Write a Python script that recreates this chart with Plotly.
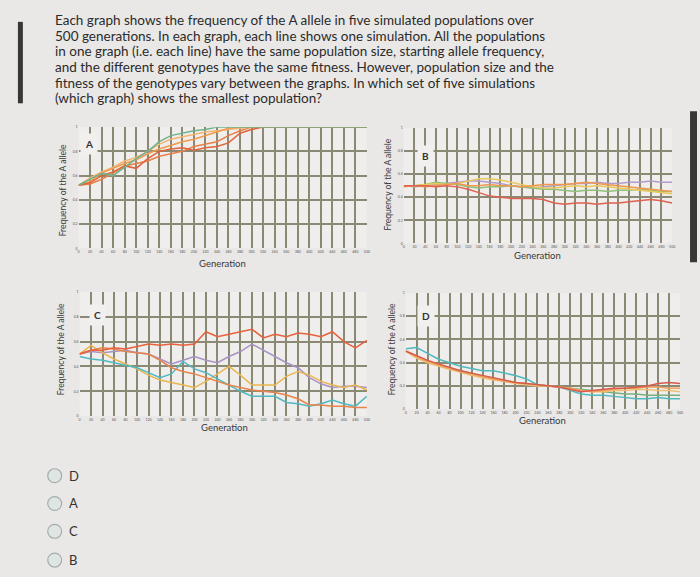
import plotly.graph_objects as go

W, H = 700, 577

question_lines = [
    "Each graph shows the frequency of the A allele in five simulated populations over",
    "500 generations. In each graph, each line shows one simulation. All the populations",
    "in one graph (i.e. each line) have the same population size, starting allele frequency,",
    "and the different genotypes have the same fitness. However, population size and the",
    "fitness of the genotypes vary between the graphs. In which set of five simulations",
    "(which graph) shows the smallest population?",
]
options = ["D", "A", "C", "B"]

generations = list(range(0, 501, 20))

# Panel A
a_green = [0.52, 0.57, 0.62, 0.60, 0.67, 0.74, 0.80, 0.88, 0.93, 0.95, 0.97, 0.98, 1.0, 1.0, 1.0, 1.0, 1.0, 1.0, 1.0, 1.0, 1.0, 1.0, 1.0, 1.0, 1.0, 1.0]
a_orange = [0.52, 0.55, 0.62, 0.66, 0.70, 0.73, 0.78, 0.82, 0.85, 0.88, 0.90, 0.93, 0.96, 0.99, 1.0, 1.0, 1.0, 1.0, 1.0, 1.0, 1.0, 1.0, 1.0, 1.0, 1.0, 1.0]
a_red = [0.52, 0.54, 0.60, 0.63, 0.68, 0.66, 0.74, 0.80, 0.82, 0.83, 0.81, 0.83, 0.84, 0.87, 0.95, 0.98, 1.0, 1.0, 1.0, 1.0, 1.0, 1.0, 1.0, 1.0, 1.0, 1.0]
a_lightorange = [0.52, 0.58, 0.63, 0.67, 0.72, 0.75, 0.80, 0.86, 0.90, 0.92, 0.94, 0.96, 0.97, 0.98, 0.99, 1.0, 1.0, 1.0, 1.0, 1.0, 1.0, 1.0, 1.0, 1.0, 1.0, 1.0]
a_redorange = [0.52, 0.53, 0.57, 0.62, 0.68, 0.70, 0.72, 0.76, 0.78, 0.80, 0.84, 0.86, 0.88, 0.93, 0.97, 1.0, 1.0, 1.0, 1.0, 1.0, 1.0, 1.0, 1.0, 1.0, 1.0, 1.0]

# Panel B
b_red = [0.50, 0.50, 0.50, 0.49, 0.50, 0.49, 0.47, 0.44, 0.41, 0.40, 0.39, 0.39, 0.39, 0.38, 0.35, 0.34, 0.35, 0.35, 0.34, 0.35, 0.35, 0.36, 0.37, 0.38, 0.37, 0.35]
b_orange = [0.49, 0.50, 0.49, 0.50, 0.51, 0.52, 0.50, 0.50, 0.51, 0.50, 0.50, 0.49, 0.50, 0.51, 0.51, 0.51, 0.52, 0.53, 0.52, 0.51, 0.50, 0.49, 0.48, 0.47, 0.46, 0.45]
b_yellow = [0.50, 0.50, 0.51, 0.52, 0.51, 0.52, 0.54, 0.56, 0.56, 0.55, 0.53, 0.51, 0.49, 0.48, 0.48, 0.49, 0.50, 0.49, 0.50, 0.49, 0.48, 0.47, 0.46, 0.45, 0.44, 0.43]
b_green = [0.50, 0.50, 0.51, 0.53, 0.52, 0.51, 0.49, 0.48, 0.49, 0.49, 0.50, 0.49, 0.48, 0.47, 0.47, 0.46, 0.45, 0.46, 0.46, 0.45, 0.46, 0.46, 0.47, 0.46, 0.45, 0.45]
b_purple = [0.50, 0.49, 0.50, 0.51, 0.52, 0.53, 0.54, 0.54, 0.53, 0.52, 0.50, 0.49, 0.48, 0.49, 0.50, 0.51, 0.52, 0.52, 0.53, 0.52, 0.52, 0.53, 0.53, 0.54, 0.53, 0.53]

# Panel C
c_red = [0.50, 0.53, 0.53, 0.55, 0.54, 0.56, 0.58, 0.57, 0.58, 0.57, 0.58, 0.68, 0.64, 0.66, 0.68, 0.70, 0.63, 0.66, 0.64, 0.67, 0.66, 0.64, 0.68, 0.60, 0.55, 0.61]
c_purple = [0.50, 0.52, 0.51, 0.52, 0.53, 0.51, 0.50, 0.46, 0.42, 0.45, 0.48, 0.45, 0.43, 0.48, 0.52, 0.58, 0.53, 0.48, 0.43, 0.39, 0.31, 0.26, 0.23, 0.24, 0.24, 0.23]
c_yellow = [0.50, 0.57, 0.51, 0.46, 0.42, 0.38, 0.33, 0.29, 0.27, 0.25, 0.23, 0.28, 0.34, 0.40, 0.33, 0.25, 0.25, 0.25, 0.32, 0.36, 0.33, 0.28, 0.25, 0.23, 0.25, 0.21]
c_cyan = [0.48, 0.46, 0.45, 0.43, 0.41, 0.39, 0.35, 0.31, 0.34, 0.44, 0.38, 0.35, 0.30, 0.25, 0.20, 0.16, 0.16, 0.16, 0.11, 0.10, 0.08, 0.10, 0.13, 0.10, 0.08, 0.16]
c_orange = [0.50, 0.53, 0.55, 0.54, 0.52, 0.51, 0.50, 0.45, 0.39, 0.36, 0.34, 0.31, 0.28, 0.25, 0.23, 0.21, 0.20, 0.19, 0.17, 0.14, 0.09, 0.09, 0.08, 0.08, 0.07, 0.07]

# Panel D
d_red = [0.50, 0.46, 0.42, 0.39, 0.36, 0.33, 0.31, 0.29, 0.27, 0.25, 0.23, 0.22, 0.21, 0.20, 0.19, 0.17, 0.15, 0.16, 0.17, 0.18, 0.18, 0.19, 0.20, 0.22, 0.23, 0.22]
d_orange = [0.50, 0.45, 0.41, 0.38, 0.35, 0.32, 0.30, 0.28, 0.26, 0.24, 0.23, 0.22, 0.21, 0.20, 0.19, 0.18, 0.16, 0.15, 0.16, 0.17, 0.18, 0.18, 0.19, 0.19, 0.18, 0.18]
d_yellow = [0.50, 0.44, 0.40, 0.37, 0.34, 0.32, 0.29, 0.27, 0.25, 0.24, 0.22, 0.21, 0.20, 0.20, 0.19, 0.17, 0.16, 0.15, 0.15, 0.16, 0.16, 0.17, 0.17, 0.16, 0.16, 0.15]
d_green = [0.50, 0.45, 0.41, 0.38, 0.35, 0.33, 0.31, 0.28, 0.26, 0.24, 0.23, 0.22, 0.21, 0.20, 0.19, 0.18, 0.17, 0.16, 0.15, 0.14, 0.13, 0.13, 0.12, 0.12, 0.12, 0.12]
d_cyan = [0.52, 0.53, 0.48, 0.43, 0.40, 0.37, 0.35, 0.33, 0.33, 0.31, 0.29, 0.26, 0.21, 0.20, 0.19, 0.16, 0.13, 0.12, 0.12, 0.11, 0.10, 0.09, 0.09, 0.10, 0.09, 0.09]

panels = {
    "A": [(a_redorange, "#e8804a"), (a_lightorange, "#f3b472"), (a_orange, "#f09a4a"), (a_red, "#e0643c"), (a_green, "#6fb38c")],
    "B": [(b_purple, "#b39cc9"), (b_green, "#8fc07a"), (b_yellow, "#e9c85c"), (b_orange, "#f0984e"), (b_red, "#e06050")],
    "C": [(c_purple, "#a993c6"), (c_yellow, "#eab54e"), (c_cyan, "#4fb9c6"), (c_orange, "#e8844a"), (c_red, "#e8603c")],
    "D": [(d_cyan, "#50b8c0"), (d_green, "#7ab080"), (d_yellow, "#f0c070"), (d_orange, "#f0a060"), (d_red, "#d95a4a")],
}

# pixel boxes (left, right, top, bottom)
boxes = {
    "A": (78, 368, 126, 248),
    "B": (405, 675, 127, 243),
    "C": (79, 368, 292, 417),
    "D": (407, 683, 293, 410),
}

def px(x):
    return x / W

def py(y):
    return 1 - y / H

fig = go.Figure()
grid_col = "#8a8973"
layout = {}
for i, (name, series) in enumerate(panels.items()):
    n = "" if i == 0 else str(i + 1)
    l, r, t, b = boxes[name]
    for vals, col in series:
        fig.add_trace(go.Scatter(x=generations, y=vals, mode="lines",
                                 line=dict(color=col, width=1.5),
                                 xaxis="x" + n, yaxis="y" + n, showlegend=False,
                                 hoverinfo="skip"))
    layout["xaxis" + n] = dict(domain=[px(l), px(r)], range=[0, 500], anchor="y" + n,
                               tickvals=generations, ticktext=[str(g) for g in generations],
                               showgrid=True, gridcolor=grid_col, gridwidth=1.7,
                               zeroline=False, showline=False, ticks="",
                               tickfont=dict(size=3.5, color="#555"))
    layout["yaxis" + n] = dict(domain=[py(b), py(t)], range=[0, 1], anchor="x" + n,
                               tickvals=[0, 0.2, 0.4, 0.6, 0.8, 1.0],
                               ticktext=["0", "0.2", "0.4", "0.6", "0.8", "1"],
                               showgrid=True, gridcolor=grid_col, gridwidth=1.7,
                               zeroline=False, showline=False, ticks="",
                               tickfont=dict(size=3.5, color="#555"))

fig.update_layout(**layout)

annotations = []
font_family = "Lato, 'Open Sans', sans-serif"
for k, line in enumerate(question_lines):
    annotations.append(dict(text=line, x=px(52), y=py(18 + k * 15.8), xref="paper", yref="paper",
                            xanchor="left", yanchor="middle", showarrow=False,
                            font=dict(family=font_family, size=13.5, color="#2b2b2b")))

label_pos = {"A": (89, 143), "B": (427, 155), "C": (97, 315), "D": (427, 316)}
ytitle_pos = {"A": (62, 190), "B": (389, 184), "C": (60, 350), "D": (393, 350)}
xtitle_pos = {"A": (223, 263), "B": (540, 255), "C": (225, 428), "D": (545, 421)}
for name in panels:
    lx, ly = label_pos[name]
    annotations.append(dict(text="<b>%s</b>" % name, x=px(lx), y=py(ly), xref="paper", yref="paper",
                            xanchor="center", yanchor="middle",
                            showarrow=False, bgcolor="#f1f0ee", borderpad=4,
                            font=dict(family=font_family, size=10, color="#333")))
    tx, ty = ytitle_pos[name]
    annotations.append(dict(text="Frequency of the A allele", x=px(tx), y=py(ty), xref="paper", yref="paper",
                            xanchor="center", yanchor="middle",
                            showarrow=False, textangle=-90,
                            font=dict(family=font_family, size=8.5, color="#3a3a3a")))
    gx, gy = xtitle_pos[name]
    annotations.append(dict(text="Generation", x=px(gx), y=py(gy), xref="paper", yref="paper",
                            xanchor="center", yanchor="middle",
                            showarrow=False,
                            font=dict(family=font_family, size=9.5, color="#3a3a3a")))

shapes = []
opt_y = [477, 505, 533, 562]
for opt, oy in zip(options, opt_y):
    shapes.append(dict(type="circle", xref="paper", yref="paper",
                       x0=px(47), x1=px(61), y0=py(oy + 7), y1=py(oy - 7),
                       line=dict(color="#a4aeae", width=1.2), fillcolor="#dfe5e3"))
    annotations.append(dict(text=opt, x=px(66), y=py(oy), xref="paper", yref="paper",
                            xanchor="left", yanchor="middle", showarrow=False,
                            font=dict(family=font_family, size=13, color="#333")))

# dark bezel edges from the photo
shapes.append(dict(type="rect", xref="paper", yref="paper", x0=px(17), x1=px(22), y0=py(102), y1=py(20),
                   line=dict(width=0), fillcolor="#3a3634"))
shapes.append(dict(type="rect", xref="paper", yref="paper", x0=px(693), x1=px(700), y0=py(262), y1=py(110),
                   line=dict(width=0), fillcolor="#3a3634"))

fig.update_layout(width=W, height=H, margin=dict(l=0, r=0, t=0, b=0),
                  paper_bgcolor="#e9e8e6", plot_bgcolor="#efeeec",
                  annotations=annotations, shapes=shapes,
                  font=dict(family=font_family))

fig.write_html("out.html")
